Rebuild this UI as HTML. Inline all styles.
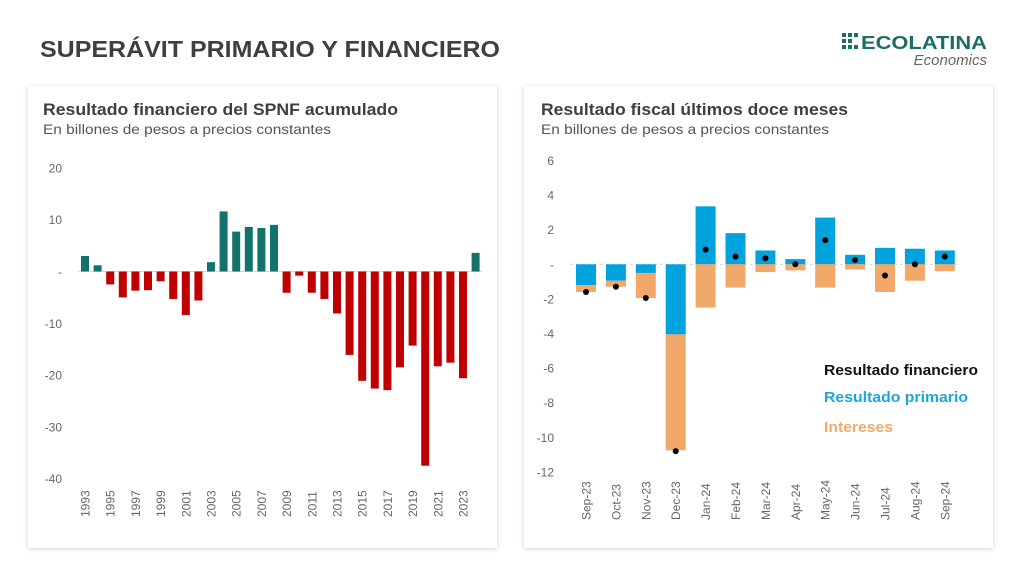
<!DOCTYPE html>
<html><head><meta charset="utf-8"><style>
body{margin:0;width:1024px;height:576px;background:#fff;overflow:hidden;font-family:"Liberation Sans","DejaVu Sans",sans-serif}
</style></head><body>
<svg width="1024" height="576" xmlns="http://www.w3.org/2000/svg" font-family="Liberation Sans, DejaVu Sans, sans-serif">
<defs><filter id="sh" x="-5%" y="-5%" width="110%" height="110%"><feDropShadow dx="0" dy="1" stdDeviation="2.5" flood-color="#000" flood-opacity="0.18"/></filter></defs>
<text x="40" y="57" font-size="23" font-weight="bold" fill="#3f3f3f" textLength="460" lengthAdjust="spacingAndGlyphs">SUPERÁVIT PRIMARIO Y FINANCIERO</text>
<g fill="#1a6e67"><rect x="842" y="33" width="4" height="4"/><rect x="848" y="33" width="4" height="4"/><rect x="854" y="33" width="4" height="4"/><rect x="842" y="39" width="4" height="4"/><rect x="848" y="39" width="4" height="4"/><rect x="842" y="45" width="4" height="4"/><rect x="848" y="45" width="4" height="4"/><rect x="854" y="45" width="4" height="4"/></g>
<text x="861" y="49" font-size="18" font-weight="bold" fill="#1a6e67" textLength="126" lengthAdjust="spacingAndGlyphs">ECOLATINA</text>
<text x="987" y="65" font-size="15" font-style="italic" fill="#666" text-anchor="end">Economics</text>
<rect x="28" y="86" width="469" height="462" fill="#fff" filter="url(#sh)"/>
<rect x="524" y="86" width="469" height="462" fill="#fff" filter="url(#sh)"/>
<text x="43" y="115" font-size="16.5" font-weight="bold" fill="#3f3f3f" textLength="355" lengthAdjust="spacingAndGlyphs">Resultado financiero del SPNF acumulado</text>
<text x="43" y="134" font-size="14" fill="#555" textLength="288" lengthAdjust="spacingAndGlyphs">En billones de pesos a precios constantes</text>
<text x="541" y="115" font-size="16.5" font-weight="bold" fill="#3f3f3f" textLength="307" lengthAdjust="spacingAndGlyphs">Resultado fiscal últimos doce meses</text>
<text x="541" y="134" font-size="14" fill="#555" textLength="288" lengthAdjust="spacingAndGlyphs">En billones de pesos a precios constantes</text>
<g id="left"></g><g id="right"></g>
<script>
var ns="http://www.w3.org/2000/svg";
function el(p,t,a,tx){var e=document.createElementNS(ns,t);for(var k in a)e.setAttribute(k,a[k]);if(tx!==undefined)e.textContent=tx;p.appendChild(e);return e;}
var L=document.getElementById("left");
var z=271.5,s=5.18;
[20,10,0,-10,-20,-30,-40].forEach(function(v){el(L,"text",{x:62,y:z-v*s+4.5,"font-size":12,fill:"#666","text-anchor":"end"},v==0?"-":v);});
el(L,"line",{x1:78,x2:482,y1:z,y2:z,stroke:"#d8d8d8","stroke-width":1});
var vals=[3,1.2,-2.5,-5,-3.7,-3.6,-1.9,-5.3,-8.4,-5.6,1.8,11.6,7.7,8.6,8.4,9.0,-4.1,-0.8,-4.1,-5.3,-8.1,-16.1,-21.1,-22.6,-22.9,-18.5,-14.3,-37.5,-18.3,-17.6,-20.6,3.6];
vals.forEach(function(v,i){var cx=85+i*12.6;var h=Math.abs(v)*s;el(L,"rect",{x:cx-4,y:v>0?z-h:z,width:8,height:h,fill:v>0?"#13726b":"#c00000"});
if(i%2==0){el(L,"text",{transform:"translate("+(cx+4.5)+",517) rotate(-90)","font-size":12,fill:"#666"},1993+i);}});
var R=document.getElementById("right");
var z2=264.3,s2=17.3;
[6,4,2,0,-2,-4,-6,-8,-10,-12].forEach(function(v){el(R,"text",{x:554,y:z2-v*s2+4.5,"font-size":12,fill:"#666","text-anchor":"end"},v==0?"-":v);});
el(R,"line",{x1:570,x2:960,y1:z2,y2:z2,stroke:"#ccc","stroke-width":1,"stroke-dasharray":"3,3"});
var d=[["Sep-23",-1.2,-0.4,-1.6],["Oct-23",-0.95,-0.35,-1.3],["Nov-23",-0.5,-1.45,-1.95],["Dec-23",-4.05,-6.7,-10.8],["Jan-24",3.35,-2.5,0.85],["Feb-24",1.8,-1.35,0.45],["Mar-24",0.8,-0.45,0.35],["Apr-24",0.3,-0.35,0.0],["May-24",2.7,-1.35,1.4],["Jun-24",0.55,-0.3,0.25],["Jul-24",0.95,-1.6,-0.65],["Aug-24",0.9,-0.95,0.0],["Sep-24",0.8,-0.4,0.45]];
d.forEach(function(r,i){var cx=586+i*29.9,p=r[1],q=r[2];
if(p>0){el(R,"rect",{x:cx-10,y:z2-p*s2,width:20,height:p*s2,fill:"#00a3dd"});el(R,"rect",{x:cx-10,y:z2,width:20,height:-q*s2,fill:"#f2a868"});}
else{el(R,"rect",{x:cx-10,y:z2,width:20,height:-p*s2,fill:"#00a3dd"});el(R,"rect",{x:cx-10,y:z2-p*s2,width:20,height:-q*s2,fill:"#f2a868"});}
el(R,"circle",{cx:cx,cy:z2-r[3]*s2,r:3,fill:"#000"});
el(R,"text",{transform:"translate("+(cx+4.5)+",520) rotate(-90)","font-size":12,fill:"#666"},r[0]);});
el(R,"text",{x:824,y:375,"font-size":15,"font-weight":"bold",fill:"#111",textLength:154,lengthAdjust:"spacingAndGlyphs"},"Resultado financiero");
el(R,"text",{x:824,y:402,"font-size":15,"font-weight":"bold",fill:"#1aa7dd",textLength:144,lengthAdjust:"spacingAndGlyphs"},"Resultado primario");
el(R,"text",{x:824,y:432,"font-size":15,"font-weight":"bold",fill:"#f2a868",textLength:69,lengthAdjust:"spacingAndGlyphs"},"Intereses");
</script>
</svg>
</body></html>
